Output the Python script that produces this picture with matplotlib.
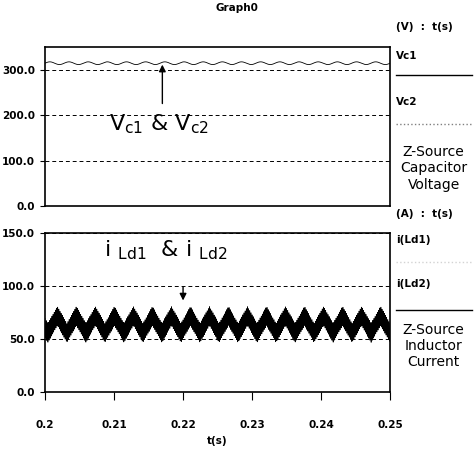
import numpy as np
import matplotlib
matplotlib.use("Agg")
import matplotlib.pyplot as plt

t_range = [0.2, 0.25]
v_mean, v_amp, v_freq = 315.0, 3.0, 360.0
i_mean, i_amp, i_freq = 64.0, 8.0, 363.0
i_sw_amp, i_sw_freq = 9.0, 6000.0
v_ticks = [0, 100, 200, 300]
i_ticks = [0, 50, 100, 150]
x_ticks = [0.2, 0.21, 0.22, 0.23, 0.24, 0.25]

t = np.linspace(t_range[0], t_range[1], 20000)
vc = v_mean + v_amp*np.sin(2*np.pi*v_freq*t)
tri = 2*np.abs(2*((t*i_sw_freq) % 1) - 1) - 1
slow = (2/np.pi)*np.arcsin(np.sin(2*np.pi*i_freq*t))
il = i_mean + i_amp*slow + i_sw_amp*tri

fig = plt.figure(figsize=(4.74, 4.55), dpi=100)
ax1 = fig.add_axes([0.095, 0.547, 0.728, 0.349])
ax2 = fig.add_axes([0.095, 0.138, 0.728, 0.349])

for ax, ticks, lim in [(ax1, v_ticks, 350), (ax2, i_ticks, 150)]:
    ax.set_xlim(*t_range)
    ax.set_ylim(0, lim)
    ax.set_yticks(ticks)
    ax.set_yticklabels([f"{v:.1f}" for v in ticks], fontsize=7.5, fontweight='bold')
    for y in ticks:
        ax.axhline(y, color='k', ls=(0, (4, 3)), lw=0.7)
    for s in ax.spines.values():
        s.set_linewidth(1.2)

ax1.plot(t, vc, color='k', lw=0.6)
ax1.set_xticks([])
ax2.plot(t, il, color='k', lw=0.5)
ax2.set_xticks(x_ticks)
ax2.set_xticklabels([f"{v:g}" for v in x_ticks], fontsize=7.5, fontweight='bold')
ax2.tick_params(axis='x', pad=14, length=6)
ax2.set_xlabel("t(s)", fontsize=7.5, fontweight='bold')

ax1.annotate("", xy=(0.217, 318), xytext=(0.217, 220),
             arrowprops=dict(arrowstyle='-|>', color='k', lw=1))
ax1.text(0.2165, 180, r"V$_{\mathrm{c1}}$ & V$_{\mathrm{c2}}$", fontsize=16, ha='center', va='center')
ax2.annotate("", xy=(0.22, 84), xytext=(0.22, 102),
             arrowprops=dict(arrowstyle='-|>', color='k', lw=1))
ax2.text(0.2175, 134, r"i $_{\mathrm{Ld1}}$  & i $_{\mathrm{Ld2}}$", fontsize=16, ha='center', va='center')

fig.text(0.5, 0.982, "Graph0", fontsize=7.5, fontweight='bold', ha='center', va='center')
fig.text(0.835, 0.94, "(V)  :  t(s)", fontsize=7.5, fontweight='bold', va='center')
fig.text(0.835, 0.53, "(A)  :  t(s)", fontsize=7.5, fontweight='bold', va='center')
fig.text(0.835, 0.878, "Vc1", fontsize=7.5, fontweight='bold', va='center')
fig.add_artist(plt.Line2D([0.835, 0.995], [0.835, 0.835], color='k', lw=1))
fig.text(0.835, 0.775, "Vc2", fontsize=7.5, fontweight='bold', va='center')
fig.add_artist(plt.Line2D([0.835, 0.995], [0.728, 0.728], color='gray', lw=1, ls=':'))
fig.text(0.915, 0.63, "Z-Source\nCapacitor\nVoltage", fontsize=10, ha='center', va='center', linespacing=1.2)
fig.text(0.835, 0.472, "i(Ld1)", fontsize=7.5, fontweight='bold', va='center')
fig.add_artist(plt.Line2D([0.835, 0.995], [0.425, 0.425], color='lightgray', lw=1, ls=':'))
fig.text(0.835, 0.375, "i(Ld2)", fontsize=7.5, fontweight='bold', va='center')
fig.add_artist(plt.Line2D([0.835, 0.995], [0.318, 0.318], color='k', lw=1))
fig.text(0.915, 0.24, "Z-Source\nInductor\nCurrent", fontsize=10, ha='center', va='center', linespacing=1.2)

fig.savefig("out.png", dpi=100)
